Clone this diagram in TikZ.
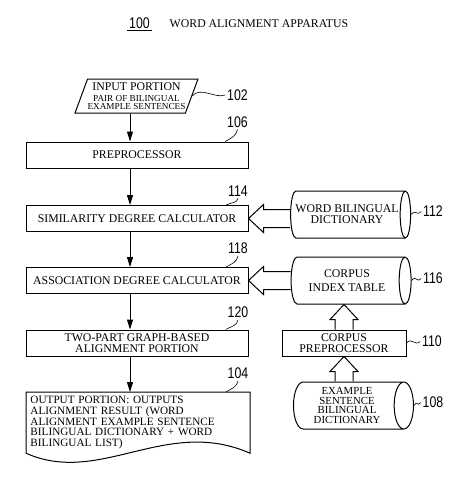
\documentclass[tikz,border=0pt]{standalone}
\usepackage{fontspec}
\setmainfont{Liberation Serif}
\newfontfamily\numfont[FakeStretch=0.8]{Liberation Sans}
\usetikzlibrary{calc, arrows.meta, positioning, shapes.geometric}

\newcommand{\smallfnt}{\fontsize{9.2}{9}\selectfont}
% wide open arrow between two points
\newcommand{\hollowarrow}[2]{%
  \coordinate (ha) at (#1);
  \coordinate (ht) at (#2);
  \coordinate (hb) at ($(ht)!15pt!(ha)$);
  \draw ($(ha)!9pt!90:(ht)$) -- ($(hb)!9pt!90:(ht)$) -- ($(hb)!14pt!90:(ht)$) -- (ht)
     -- ($(hb)!14pt!-90:(ht)$) -- ($(hb)!9pt!-90:(ht)$) -- ($(ha)!9pt!-90:(ht)$);
}

\begin{document}
\begin{tikzpicture}[x=1pt, y=-1pt, line width=1pt, font=\fontsize{11.8}{11}\selectfont]

    % Styles
    \tikzset{
        box/.style={rectangle, draw, minimum width=222pt, minimum height=26pt, align=center, inner sep=1pt},
        drum/.style={cylinder, draw, aspect=0.5, minimum width=47pt, minimum height=120pt, align=center, inner sep=1pt},
        num/.style={font=\numfont\fontsize{15.4}{15}\selectfont, inner sep=1.5pt},
        arr/.style={-{Triangle[length=10pt, width=6pt]}},
        lead/.style={line width=0.6pt}
    }

    \useasboundingbox (0,0) rectangle (474,479);

    % Title
    \node[num] (n100) at (139.5,23) {100};
    \draw[line width=0.6pt] (n100.south west) -- (n100.south east);
    \node (title) at (259,24) {WORD ALIGNMENT APPARATUS};

    % Left column
    \node[trapezium, draw, trapezium left angle=65, trapezium right angle=115, trapezium stretches=true,
          minimum width=121pt, minimum height=34pt, inner sep=0pt, align=center] (inp) at (136.5,96)
          {INPUT PORTION\\{\smallfnt PAIR OF BILINGUAL}\\[-3pt]{\smallfnt EXAMPLE SENTENCES}};
    \node[box] (pre) at (137,155) {PREPROCESSOR};
    \node[box] (sim) at (137,218.5) {SIMILARITY DEGREE CALCULATOR};
    \node[box] (asc) at (137,280.5) {ASSOCIATION DEGREE CALCULATOR};
    \node[box] (two) at (137,343) {TWO-PART GRAPH-BASED\\ALIGNMENT PORTION};
    \node[anchor=north west, minimum width=223pt, minimum height=55pt, text width=215pt, inner sep=4pt,
          align=left, font=\fontsize{11.2}{10.6}\selectfont] (out) at (26,392)
          {OUTPUT PORTION: OUTPUTS\\ALIGNMENT RESULT (WORD\\ALIGNMENT EXAMPLE SENTENCE\\BILINGUAL DICTIONARY + WORD\\BILINGUAL LIST)};
    \draw (out.south west) -- (out.north west) -- (out.north east) -- (out.south east)
        .. controls +(-84,-37) and +(74,33) .. (out.south west);

    % Right column
    \node[drum] (wbd) at (347,214.5) {WORD BILINGUAL\\DICTIONARY};
    \node[drum, font=\fontsize{11.8}{14}\selectfont] (cit) at (347,280.5) {CORPUS\\INDEX TABLE};
    \node[rectangle, draw, minimum width=124pt, minimum height=26pt, align=center, inner sep=1pt] (cpp) at (344,343) {CORPUS\\PREPROCESSOR};
    \node[drum, font=\fontsize{10.8}{9.8}\selectfont] (esb) at (347,405.5) {EXAMPLE\\SENTENCE\\BILINGUAL\\DICTIONARY};

    % Reference numbers
    \node[num] (l102) at (237.5,95) {102};
    \node[num] (l106) at (237.5,122) {106};
    \node[num] (l114) at (238,191) {114};
    \node[num] (l118) at (238,248.5) {118};
    \node[num] (l120) at (238,312.5) {120};
    \node[num] (l104) at (238,373.5) {104};
    \node[num] (l112) at (433,211.5) {112};
    \node[num] (l116) at (433,278.5) {116};
    \node[num] (l110) at (432,341.5) {110};
    \node[num] (l108) at (433,402.5) {108};

    % Flow
    \coordinate (col) at (130,0);
    \draw[arr] (inp.south -| col) -- (pre.north -| col);
    \draw[arr] (pre.south -| col) -- (sim.north -| col);
    \draw[arr] (sim.south -| col) -- (asc.north -| col);
    \draw[arr] (asc.south -| col) -- (two.north -| col);
    \draw[arr] (two.south -| col) -- (out.north -| col);

    \hollowarrow{wbd.west |- sim.east}{sim.east}
    \hollowarrow{cit.west |- asc.east}{asc.east}
    \hollowarrow{cpp.north}{cit.south -| cpp.north}
    \hollowarrow{esb.north -| cpp.south}{cpp.south}

    % Leaders
    \draw[lead] (inp.east) .. controls +(8,-10) and +(-10,4) .. (l102.west);
    \foreach \b/\l in {pre/l106, sim/l114, asc/l118, two/l120, out/l104} {
        \draw[lead] (\b.north -| \l.south west) to[out=30, in=-100] (\l.south);
    }
    \foreach \b/\l in {wbd/l112, cit/l116, cpp/l110, esb/l108} {
        \draw[lead] (\b.east) .. controls +(5,-6) and +(-5,5) .. (\l.west);
    }

\end{tikzpicture}
\end{document}
